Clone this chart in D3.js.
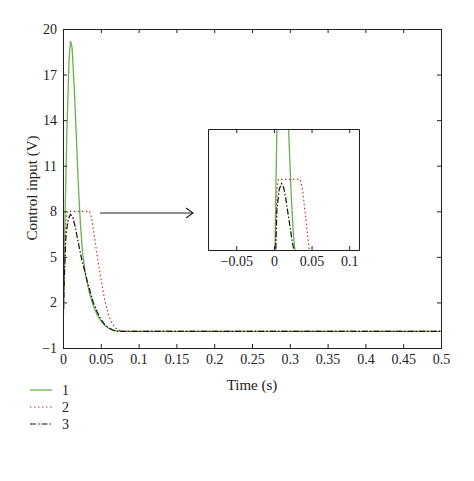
<!DOCTYPE html>
<html><head><meta charset="utf-8">
<script src="https://cdn.jsdelivr.net/npm/d3@7"></script>
<style>body{margin:0;background:#fff}text{font-family:"Liberation Serif",serif !important;fill:#222}</style>
</head><body>
<svg id="c" width="474" height="481"></svg>
<script>
// series data
const t1 = [0,0.002,0.005,0.008,0.01,0.012,0.015,0.018,0.02,0.023,0.026,0.03,0.035,0.04,0.045,0.05,0.055,0.06,0.065,0.07,0.08,0.1,0.2,0.3,0.4,0.5];
const v1 = [0,6,13,18,19.2,18.8,16,12.5,10,7.2,5.2,3.8,2.6,1.8,1.2,0.8,0.5,0.3,0.2,0.12,0.1,0.1,0.1,0.1,0.1,0.1];
const t2 = [0,0.002,0.004,0.006,0.035,0.038,0.042,0.046,0.05,0.055,0.06,0.065,0.07,0.075,0.08,0.1,0.5];
const v2 = [0,4,7.5,8,8,7.5,6.2,4.8,3.6,2.2,1.2,0.6,0.3,0.15,0.1,0.1,0.1];
const t3 = [0,0.002,0.004,0.007,0.01,0.013,0.016,0.02,0.024,0.028,0.032,0.036,0.04,0.045,0.05,0.055,0.06,0.065,0.07,0.08,0.1,0.5];
const v3 = [0,4,6.5,7.5,7.8,7.6,7.0,6.0,5.0,4.2,3.4,2.7,2.0,1.4,0.9,0.55,0.35,0.2,0.12,0.1,0.1,0.1];
const xTicks = [0,0.05,0.1,0.15,0.2,0.25,0.3,0.35,0.4,0.45,0.5];
const yTicks = [-1,2,5,8,11,14,17,20];
const insetXTicks = [-0.05,0,0.05,0.1];
const names = ["1","2","3"];

const series = [
  {t:t1, v:v1, color:"#6ab04c", dash:null, w:1.3},
  {t:t2, v:v2, color:"#c0392b", dash:"1.5,2.5", w:1.2},
  {t:t3, v:v3, color:"#111", dash:"6,2,1.5,2", w:1.2}
];

const svg = d3.select("#c");
const fmt = d => d === 0 ? "0" : String(d).replace("-", "\u2212");

function panel(g, x, y, xt, yt, id) {
  const [x0, x1] = x.range(), [y0, y1] = y.range();
  g.append("clipPath").attr("id", id).append("rect").attr("x", x0).attr("y", y1).attr("width", x1 - x0).attr("height", y0 - y1);
  const line = d3.line().x(d => x(d[0])).y(d => y(d[1]));
  series.forEach(s => {
    g.append("path").attr("clip-path", `url(#${id})`)
      .datum(s.t.map((tt, i) => [tt, s.v[i]]))
      .attr("d", line).attr("fill", "none").attr("stroke", s.color)
      .attr("stroke-width", s.w).attr("stroke-dasharray", s.dash);
  });
  const ax = (gen, tr) => g.append("g").attr("transform", tr).call(gen)
    .call(a => { a.select(".domain").attr("stroke", "#222"); a.selectAll("line").attr("stroke", "#222"); a.selectAll("text").style("font-size", "14px"); });
  ax(d3.axisBottom(x).tickValues(xt).tickSize(-4).tickPadding(6).tickFormat(fmt), `translate(0,${y0})`);
  ax(d3.axisTop(x).tickValues(xt).tickSize(-4).tickFormat(""), `translate(0,${y1})`);
  if (yt) ax(d3.axisLeft(y).tickValues(yt).tickSize(-4).tickPadding(6).tickFormat(fmt), `translate(${x0},0)`);
  else ax(d3.axisLeft(y).tickValues([]).tickSize(0), `translate(${x0},0)`);
  ax(d3.axisRight(y).tickValues(yt || []).tickSize(yt ? -4 : 0).tickFormat(""), `translate(${x1},0)`);
}

const x = d3.scaleLinear().domain([0, 0.5]).range([63, 441]);
const y = d3.scaleLinear().domain([-1, 20]).range([348, 29]);
panel(svg.append("g"), x, y, xTicks, yTicks, "clipMain");

svg.append("rect").attr("x", 208).attr("y", 129).attr("width", 151).attr("height", 121).attr("fill", "#fff");
const xi = d3.scaleLinear().domain([-0.0875, 0.113]).range([208, 359]);
const yi = d3.scaleLinear().domain([4.5, 10.5]).range([250, 129]);
panel(svg.append("g"), xi, yi, insetXTicks, null, "clipInset");

// arrow
svg.append("line").attr("x1", 100).attr("y1", 213).attr("x2", 192).attr("y2", 213).attr("stroke", "#222").attr("stroke-width", 1.2);
svg.append("path").attr("d", "M186,208 L193,213 L186,218").attr("fill", "none").attr("stroke", "#222").attr("stroke-width", 1.2);

svg.append("text").attr("x", 252).attr("y", 390).attr("text-anchor", "middle").style("font-size", "15px").text("Time (s)");
svg.append("text").attr("transform", "translate(37,188) rotate(-90)").attr("text-anchor", "middle").style("font-size", "15px").text("Control input (V)");

// legend
const ly = d3.scalePoint().domain(names).range([390, 424]);
names.forEach((n, i) => {
  const s = series[i];
  svg.append("line").attr("x1", 30).attr("x2", 52).attr("y1", ly(n)).attr("y2", ly(n))
    .attr("stroke", s.color).attr("stroke-width", s.w).attr("stroke-dasharray", s.dash);
  svg.append("text").attr("x", 62).attr("y", ly(n) + 5).style("font-size", "14px").text(n);
});
</script>
</body></html>
